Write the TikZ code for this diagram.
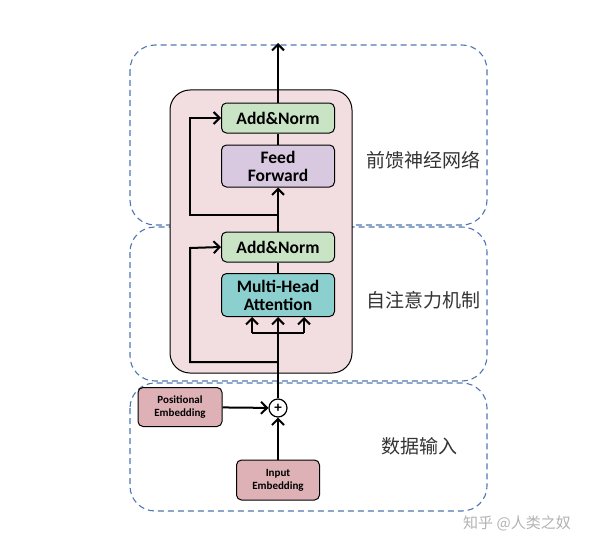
\documentclass[tikz,border=0pt]{standalone}
\usepackage{fontspec}
\setmainfont{Carlito}
\newfontfamily\cjk{Noto Sans CJK SC}
\usetikzlibrary{arrows.meta}
\begin{document}
\begin{tikzpicture}[x=1pt,y=-1pt,
  dbox/.style={dashed, dash pattern=on 6pt off 4pt, line width=1.1pt, rounded corners=25pt},
  blk/.style={draw=black, line width=1pt, rounded corners=5pt, minimum width=113pt, inner sep=1pt, align=center, font=\fontsize{17.5}{19}\selectfont\bfseries},
  emb/.style={draw=black, line width=1pt, rounded corners=5pt, fill=embc, align=center, inner sep=1pt, font=\fontsize{11}{13}\selectfont\bfseries},
  ar/.style={line width=2pt, -{Straight Barb[length=6pt,width=12pt]}},
  ln/.style={line width=2pt},
  cn/.style={font=\cjk\fontsize{19}{22}\selectfont, text=black!80}]
\definecolor{embc}{HTML}{DDB1B5}
\definecolor{dbl}{RGB}{80,118,176}
\path[use as bounding box] (0,0) rectangle (600,551);
\draw[dbox, draw=dbl] (130,45) rectangle (487,225);
\draw[dbox, draw=dbl] (130,227) rectangle (487,381);
\draw[dbox, draw=dbl] (130,383) rectangle (487,511);
\draw[fill={rgb,255:red,242;green,222;blue,224}, line width=1pt, rounded corners=20pt] (170,90) rectangle (352,373);
\node[blk, fill={rgb,255:red,201;green,227;blue,197}, minimum height=30pt] (an2) at (278,118) {Add\&Norm};
\node[blk, fill={rgb,255:red,217;green,201;blue,224}, minimum height=42pt] (ff) at (278,166) {Feed\\[-1pt]Forward};
\node[blk, fill={rgb,255:red,201;green,227;blue,197}, minimum height=30pt] (an1) at (278,247) {Add\&Norm};
\node[blk, fill={rgb,255:red,140;green,207;blue,207}, minimum height=43pt] (mha) at (278,295) {Multi-Head\\[-1pt]Attention};
\node[draw, circle, line width=1.2pt, fill=white, minimum size=18pt, inner sep=0pt, font=\bfseries\fontsize{15}{15}\selectfont] (plus) at (278,408) {+};
\node[emb, minimum width=84pt, minimum height=39pt] (pe) at (180,407) {Positional\\Embedding};
\node[emb, minimum width=83pt, minimum height=40pt] (ie) at (278,480) {Input\\Embedding};
\coordinate (top) at (278,43);
\coordinate (s1) at (278,362); \coordinate (l1) at (190,362); \coordinate (l1t) at (190,248);
\coordinate (b) at (278,333); \coordinate (bl) at (252,333); \coordinate (br) at (304,333);
\coordinate (s2) at (278,215); \coordinate (l2) at (190,215); \coordinate (l2t) at (190,118);
\draw[ar] (ie) -- (plus);
\draw[ar] (pe) -- (plus);
\draw[ln] (plus) -- (s1);
\draw[ar] (s1) -- (l1) -- (l1t) -- (an1.west);
\draw[ar] (s1) -- (mha.south);
\draw[ln] (bl) -- (br);
\draw[ar] (bl) -- (bl |- mha.south);
\draw[ar] (br) -- (br |- mha.south);
\draw[ln] (mha) -- (an1);
\draw[ar] (an1) -- (ff);
\draw[ar] (s2) -- (l2) -- (l2t) -- (an2.west);
\draw[ln] (ff) -- (an2);
\draw[ar] (an2) -- (top);
\node[cn] (t1) at (423,160) {前馈神经网络};
\node[cn] (t2) at (423,300) {自注意力机制};
\node[cn] (t3) at (419,446) {数据输入};
\node[font=\cjk\fontsize{15}{17}\selectfont, text=black!30] (wm) at (517,523) {知乎 @人类之奴};
\end{tikzpicture}
\end{document}
